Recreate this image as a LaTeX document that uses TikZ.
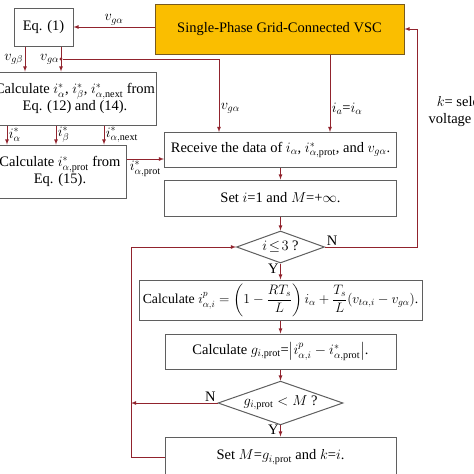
\documentclass[tikz,border=0pt]{standalone}
\usepackage{amsmath}
\usepackage{fontspec}
\setmainfont{Liberation Serif}
\usetikzlibrary{calc,arrows,shapes.geometric}
\definecolor{vscfill}{RGB}{250,190,0}
\definecolor{vscline}{RGB}{120,90,30}
\definecolor{flow}{RGB}{145,35,45}
\definecolor{boxline}{RGB}{95,95,95}

\begin{document}
\begin{tikzpicture}[x=1pt,y=-1pt,
  font=\fontsize{14.5}{17}\selectfont,
  blk/.style={draw=boxline,line width=1pt,fill=white,rectangle,inner sep=2pt,align=center},
  dec/.style={draw=boxline,line width=1pt,diamond,inner sep=0pt,aspect=2.5},
  flw/.style={draw=flow,line width=0.8pt},
  arr/.style={flw,-latex},
  lbl/.style={inner sep=1.5pt}]
\clip (0,0) rectangle (474,474);
\fill[white] (0,0) rectangle (474,474);
% blocks
\node[blk,fill=vscfill,draw=vscline,minimum width=249pt,minimum height=50pt](vsc)at(279.5,29){Single-Phase Grid-Connected VSC};
\node[blk,minimum width=59pt,minimum height=38pt](eq1)at(43.5,27){Eq. (1)};
\node[blk,minimum width=162pt,minimum height=53pt](calc1)at(75,98.5){Calculate $i^*_\alpha$, $i^*_\beta$, $i^*_{\alpha,\mathrm{next}}$ from\\Eq. (12) and (14).};
\node[blk,minimum width=132pt,minimum height=53pt](calc2)at(60,171.5){Calculate $i^*_{\alpha,\mathrm{prot}}$ from\\Eq. (15).};
\node[blk,minimum width=232pt,minimum height=35pt](recv)at(280.5,150){Receive the data of $i_\alpha$, $i^*_{\alpha,\mathrm{prot}}$, and $v_{g\alpha}$.};
\node[blk,minimum width=232pt,minimum height=36pt](init)at(280.5,198){Set $i$=1 and $M$=+$\infty$.};
\node[dec,minimum width=88pt,minimum height=32pt](dec1)at(280.5,247){$i\!\leq\!3$ ?};
\node[blk,minimum width=283pt,minimum height=40pt,inner sep=1pt](calc3)at(280.5,300){\scalebox{0.95}{Calculate $i^p_{\alpha,i}=\left(1-\dfrac{RT_s}{L}\right)i_\alpha+\dfrac{T_s}{L}(v_{t\alpha,i}-v_{g\alpha})$.}};
\node[blk,minimum width=231pt,minimum height=35pt](calcg)at(280.5,351.5){Calculate $g_{i,\mathrm{prot}}$=$\left|i^p_{\alpha,i}-i^*_{\alpha,\mathrm{prot}}\right|$.};
\node[dec,minimum width=125pt,minimum height=36pt](dec2)at(280.5,403){$g_{i,\mathrm{prot}}<M$ ?};
\node[blk,minimum width=231pt,minimum height=40pt](setm)at(280.5,457){Set $M$=$g_{i,\mathrm{prot}}$ and $k$=$i$.};
\node[lbl,align=center](note)at(470,112){$k$= selected\\voltage vector};
% helper points
\coordinate (xb) at (25,0);
\coordinate (xa) at (61,0);
\coordinate (xv) at (219,0);
\coordinate (xi) at (330,0);
\coordinate (xk) at (417,0);
\coordinate (xl) at (131,0);
\coordinate (yp) at (0,159);
\node[circle,fill=flow,inner sep=1.2pt](dot)at(61,59){};
% connectors
\draw[arr] (vsc.west|-eq1.east) -- node[lbl,above]{$v_{g\alpha}$} (eq1.east);
\draw[arr] (eq1.south-|xb) -- node[lbl,left]{$v_{g\beta}$} (calc1.north-|xb);
\draw[arr] (eq1.south-|xa) -- node[lbl,left]{$v_{g\alpha}$} (calc1.north-|xa);
\draw[arr] (dot) -| node[lbl,pos=0.84,right]{$v_{g\alpha}$} (recv.north-|xv);
\draw[arr] (vsc.south-|xi) -- node[lbl,pos=0.7,right]{$i_a$=$i_\alpha$} (recv.north-|xi);
\foreach \x/\t in {7/{i^*_\alpha},56/{i^*_\beta},104/{i^*_{\alpha,\mathrm{next}}}}
  \draw[arr] (calc1.south-|\x,0) -- node[lbl,right]{$\t$} (calc2.north-|\x,0);
\draw[arr] (calc2.east|-yp) -- node[lbl,below]{$i^*_{\alpha,\mathrm{prot}}$} (recv.west|-yp);
\draw[arr] (recv) -- (init);
\draw[arr] (init) -- (dec1);
\draw[arr] (dec1.south) -- node[lbl,pos=0.35,left]{Y} (calc3.north);
\draw[arr] (dec1.east) node[lbl,above right]{N} -| (vsc.east-|xk) -- (vsc.east);
\draw[arr] (calc3) -- (calcg);
\draw[arr] (calcg) -- (dec2);
\draw[arr] (dec2.west) node[lbl,above left]{N} -- (dec2.west-|xl);
\draw[arr] (dec2.south) -- node[lbl,pos=0.4,left]{Y} (setm.north);
\draw[arr] (setm.west) -- (setm.west-|xl) |- (dec1.west);
\end{tikzpicture}
\end{document}
